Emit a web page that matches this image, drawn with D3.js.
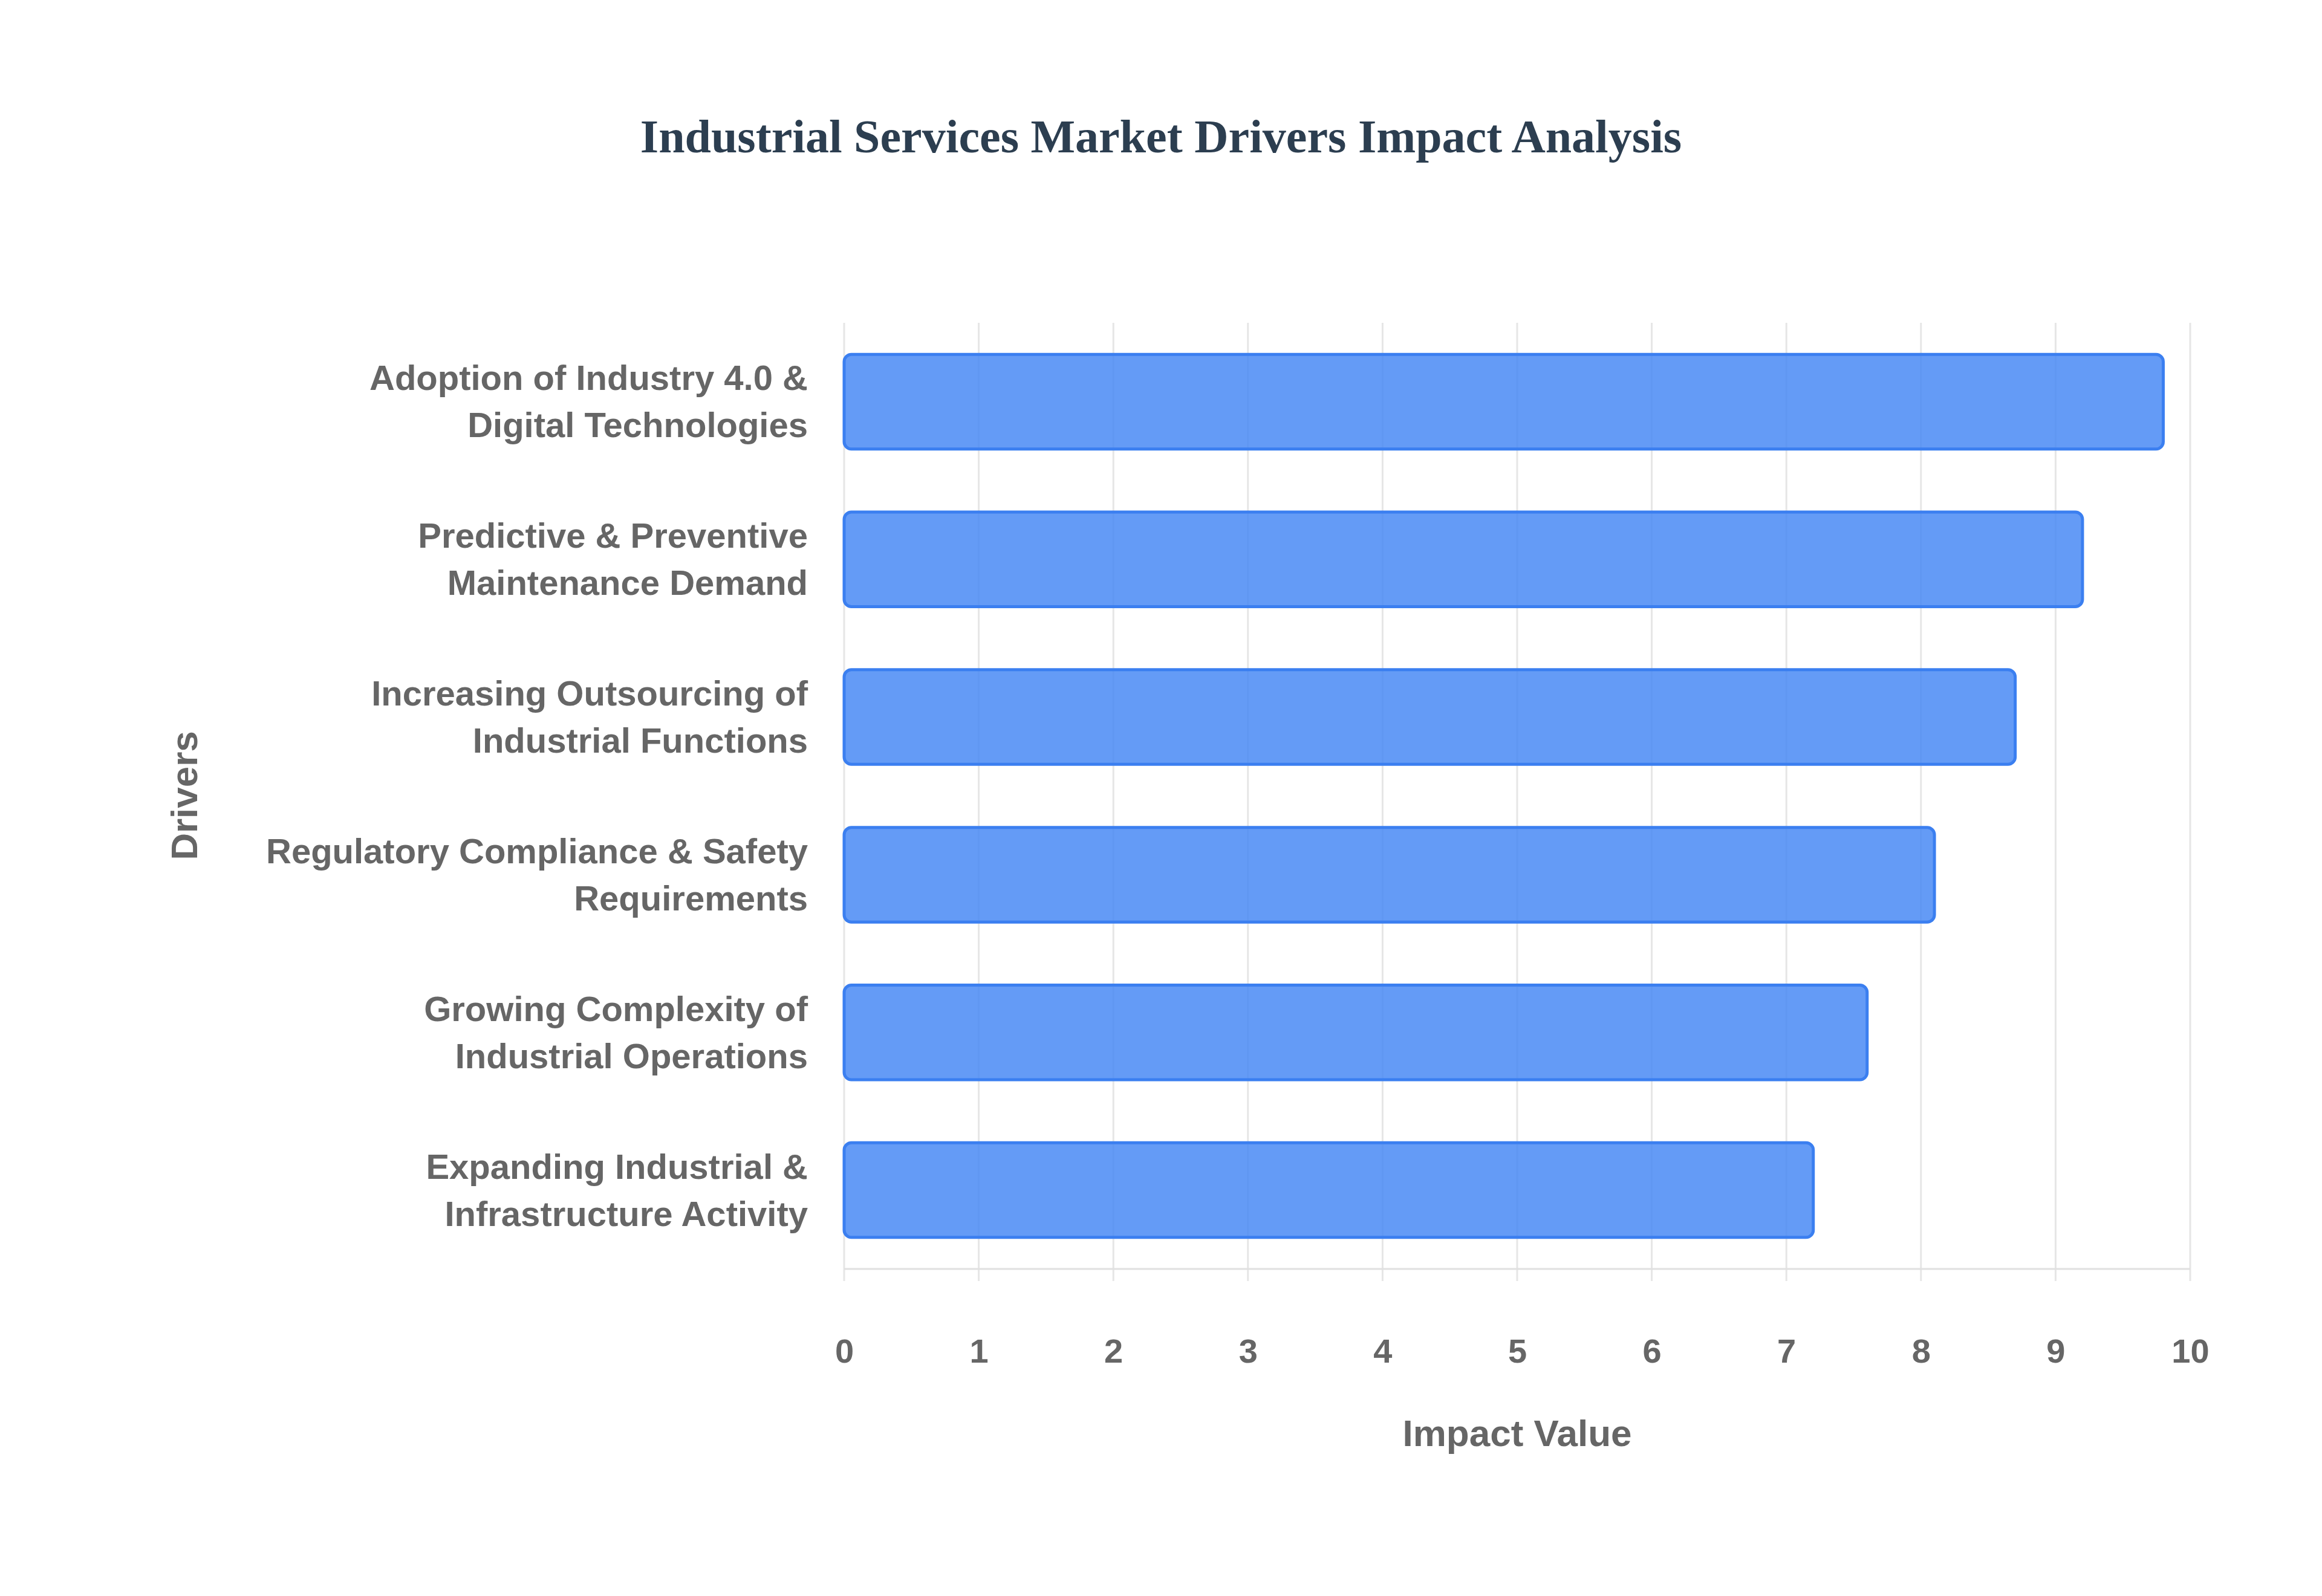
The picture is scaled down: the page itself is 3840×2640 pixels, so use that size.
<!DOCTYPE html>
<html><head><meta charset="utf-8">
<script src="https://cdn.jsdelivr.net/npm/d3@7"></script>
<style>body{margin:0;background:#fff}</style></head>
<body><svg id="c" width="3840" height="2640"></svg>
<script>
const categories = [
  ["Adoption of Industry 4.0 &","Digital Technologies"],
  ["Predictive & Preventive","Maintenance Demand"],
  ["Increasing Outsourcing of","Industrial Functions"],
  ["Regulatory Compliance & Safety","Requirements"],
  ["Growing Complexity of","Industrial Operations"],
  ["Expanding Industrial &","Infrastructure Activity"]
];
const values = [9.8, 9.2, 8.7, 8.1, 7.6, 7.2];
const xTicks = [0,1,2,3,4,5,6,7,8,9,10];

const svg = d3.select("#c");
const L = 1396, R = 3622, T = 534, B = 2099;
const x = d3.scaleLinear().domain([0,10]).range([L,R]);
const y = d3.scaleBand().domain(d3.range(categories.length)).range([T,B]).paddingInner(0.4).paddingOuter(0.2);
const font = "'Liberation Sans', Arial, sans-serif";

svg.append("text").attr("x",1920).attr("y",252).attr("text-anchor","middle")
  .attr("font-family","'Liberation Serif', 'Times New Roman', serif").attr("font-weight","bold")
  .attr("font-size",78).attr("fill","#2c3e50").text("Industrial Services Market Drivers Impact Analysis");

// grid
svg.append("g").selectAll("line").data(xTicks).join("line")
  .attr("x1",d=>x(d)).attr("x2",d=>x(d)).attr("y1",T).attr("y2",B+20)
  .attr("stroke","#e6e6e6").attr("stroke-width",3);
svg.append("line").attr("x1",L).attr("x2",R).attr("y1",B).attr("y2",B).attr("stroke","#e0e0e0").attr("stroke-width",3);

// bars
svg.append("g").selectAll("rect").data(values).join("rect")
  .attr("x",x(0)).attr("y",(d,i)=>y(i)).attr("width",d=>x(d)-x(0)).attr("height",y.bandwidth())
  .attr("rx",12).attr("fill","rgba(66,133,244,0.82)").attr("stroke","#3b7ff0").attr("stroke-width",5);

// x tick labels
const xa = d3.axisBottom(x).tickValues(xTicks).tickSize(0).tickPadding(0);
const gx = svg.append("g").attr("transform",`translate(0,${B+115})`).call(xa);
gx.select(".domain").remove();
gx.selectAll("text").attr("font-family",font).attr("font-weight","bold").attr("font-size",56).attr("fill","#666");

// y labels
const lab = svg.append("g").selectAll("text").data(categories).join("text")
  .attr("text-anchor","end").attr("font-family",font).attr("font-weight","bold")
  .attr("font-size",58).attr("fill","#666");
lab.each(function(d,i){
  const t=d3.select(this), cy=y(i)+y.bandwidth()/2;
  d.forEach((s,k)=>t.append("tspan").attr("x",1336).attr("y",cy-39+k*78+20).text(s));
});

svg.append("text").attr("x",(L+R)/2).attr("y",2392).attr("text-anchor","middle")
  .attr("font-family",font).attr("font-weight","bold").attr("font-size",62).attr("fill","#666").text("Impact Value");
svg.append("text").attr("transform",`translate(326,1316) rotate(-90)`).attr("text-anchor","middle")
  .attr("font-family",font).attr("font-weight","bold").attr("font-size",62).attr("fill","#666").text("Drivers");
</script></body></html>
